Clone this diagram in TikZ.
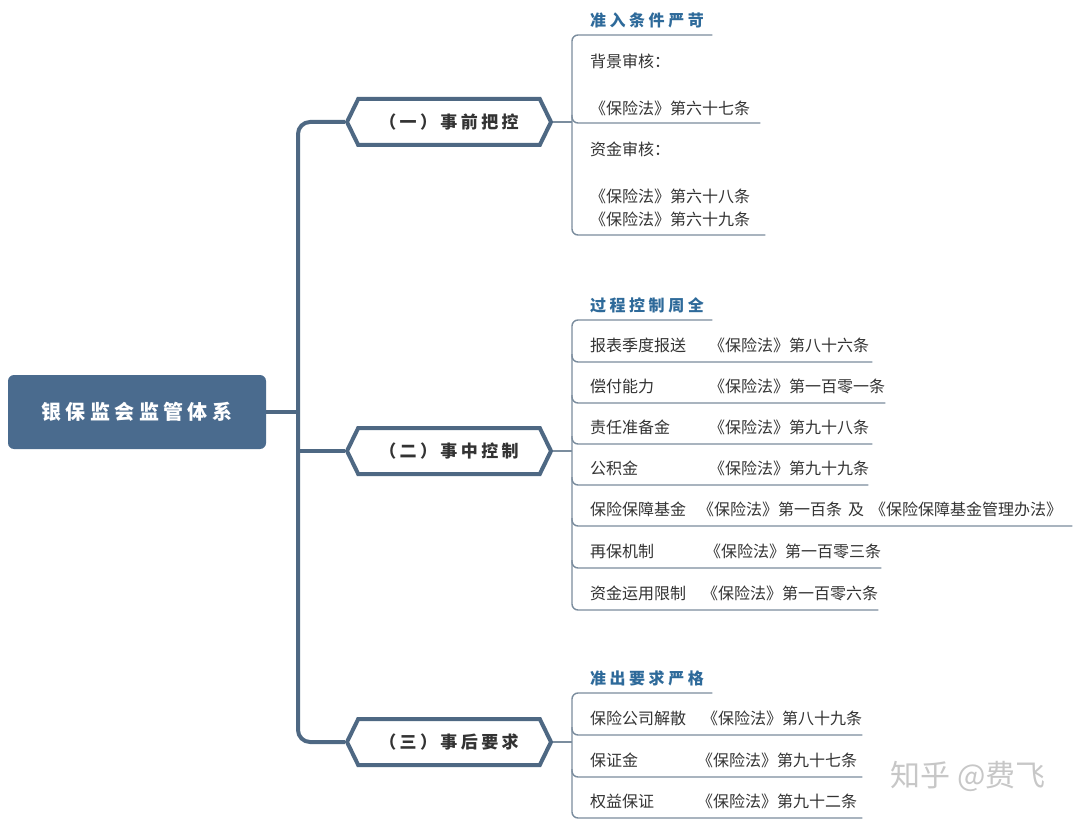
\documentclass[tikz,border=0pt]{standalone}
\usepackage{fontspec}
\setmainfont{Noto Sans CJK SC}
\newfontfamily\wideroot[LetterSpace=22]{Noto Sans CJK SC}
\newfontfamily\widestage[LetterSpace=20]{Noto Sans CJK SC}
\newfontfamily\widehead[LetterSpace=22]{Noto Sans CJK SC}
\usetikzlibrary{shapes.symbols}
\definecolor{rootblue}{HTML}{4A6B8E}
\definecolor{spineblue}{HTML}{4E6883}
\definecolor{leafgray}{HTML}{7B8D9E}
\definecolor{headblue}{HTML}{2E6A9A}
\definecolor{inkdark}{HTML}{333333}
\newcommand{\ind}{\hspace*{18pt}}
\newcommand{\colA}[2]{\makebox[#1][l]{#2}}
\tikzset{
  rootbox/.style={rectangle,rounded corners=6pt,fill=rootblue,text=white,
    minimum width=258pt,minimum height=74pt,inner sep=0pt,
    font=\wideroot\bfseries\fontsize{20}{20}\selectfont},
  stagebox/.style={signal,signal to=east and west,signal pointer angle=128,
    draw=spineblue,line width=4pt,fill=white,text=inkdark,
    minimum width=204pt,minimum height=46pt,inner sep=0pt,
    font=\widestage\bfseries\fontsize{17}{17}\selectfont},
  spineline/.style={draw=spineblue,line width=4pt,rounded corners=12pt},
  leafline/.style={draw=leafgray,line width=1.4pt,rounded corners=6pt},
  heading/.style={anchor=south west,inner sep=0pt,text width=140pt,align=left,
    minimum height=28pt,text=headblue,
    font=\widehead\bfseries\fontsize{16}{16}\selectfont},
  leaf/.style={anchor=south west,inner sep=0pt,text width=#1,align=left,
    minimum height=32pt,text=inkdark,font=\fontsize{16}{23.3}\selectfont},
  watermark/.style={text=black!22,font=\fontsize{30}{30}\selectfont}
}

\begin{document}
\begin{tikzpicture}[x=1pt,y=-1pt]
\useasboundingbox[fill=white] (0,0) rectangle (1080,824);

\node[rootbox] (root) at (137,412) {银保监会监管体系};
\node[stagebox] (pre) at (449,122) {（一）事前把控};
\node[stagebox] (mid) at (449,451) {（二）事中控制};
\node[stagebox] (post) at (449,742) {（三）事后要求};
\coordinate (spine) at (298,412);

\draw[spineline] (pre.west) -| (spine) |- (post.west);
\draw[spineline] (root.east) -- (spine);
\draw[spineline] (spine |- mid.west) -- (mid.west);

% 事前
\node[heading] (t1) at (572,35) {\ind 准入条件严苛};
\node[leaf=188pt,minimum height=76pt] (i1) at (572,123)
  {\ind 背景审核：\\[23.3pt]\ind《保险法》第六十七条};
\node[leaf=193pt,minimum height=100pt] (i2) at (572,235)
  {\ind 资金审核：\\[23.3pt]\ind《保险法》第六十八条\\\ind《保险法》第六十九条};

% 事中
\node[heading] (t2) at (572,320) {\ind 过程控制周全};
\node[leaf=300pt] (a1) at (572,362) {\ind\colA{119pt}{报表季度报送}《保险法》第八十六条};
\node[leaf=313pt] (a2) at (572,403) {\ind\colA{119pt}{偿付能力}《保险法》第一百零一条};
\node[leaf=300pt] (a3) at (572,444) {\ind\colA{119pt}{责任准备金}《保险法》第九十八条};
\node[leaf=296pt] (a4) at (572,485) {\ind\colA{119pt}{公积金}《保险法》第九十九条};
\node[leaf=500pt] (a5) at (572,526) {\ind\colA{108pt}{保险保障基金}《保险法》第一百条\hspace{6pt}及\hspace{6pt}《保险保障基金管理办法》};
\node[leaf=309pt] (a6) at (572,568) {\ind\colA{115pt}{再保机制}《保险法》第一百零三条};
\node[leaf=306pt] (a7) at (572,610) {\ind\colA{112pt}{资金运用限制}《保险法》第一百零六条};

% 事后
\node[heading] (t3) at (572,693) {\ind 准出要求严格};
\node[leaf=290pt] (b1) at (572,735) {\ind\colA{112pt}{保险公司解散}《保险法》第八十九条};
\node[leaf=290pt] (b2) at (572,777) {\ind\colA{107pt}{保证金}《保险法》第九十七条};
\node[leaf=290pt] (b3) at (572,818) {\ind\colA{107pt}{权益保证}《保险法》第九十二条};

\draw[leafline] (pre.east) -- (pre.east -| t1.south west);
\draw[leafline] (mid.east) -- (mid.east -| t2.south west);
\draw[leafline] (post.east) -- (post.east -| t3.south west);
\draw[leafline] (t1.south east) -| ([yshift=8pt]i2.south west);
\draw[leafline] (t2.south east) -| ([yshift=8pt]a7.south west);
\draw[leafline] (t3.south east) -| ([yshift=8pt]b3.south west);
\foreach \n in {i1,i2,a1,a2,a3,a4,a5,a6,a7,b1,b2,b3}
  \draw[leafline] (\n.south east) -| ([yshift=8pt]\n.south west);

\node[watermark] (mark) at (968,776) {知乎 @费飞};
\end{tikzpicture}
\end{document}
